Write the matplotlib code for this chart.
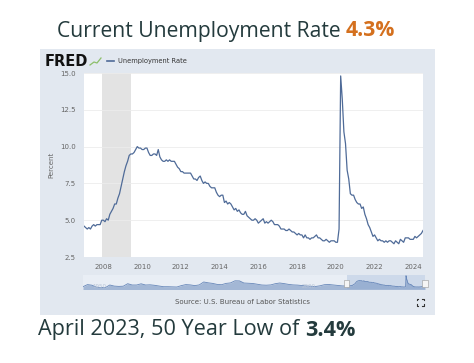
import matplotlib
matplotlib.use("Agg")
import matplotlib.pyplot as plt
from matplotlib.patches import Rectangle
import numpy as np

# ---------------- data ----------------
start_year = 2007
unrate = [
    4.6, 4.5, 4.4, 4.5, 4.4, 4.6, 4.7, 4.6, 4.7, 4.7, 4.7, 5.0,   # 2007
    5.0, 4.9, 5.1, 5.0, 5.4, 5.6, 5.8, 6.1, 6.1, 6.5, 6.8, 7.3,   # 2008
    7.8, 8.3, 8.7, 9.0, 9.4, 9.5, 9.5, 9.6, 9.8, 10.0, 9.9, 9.9,  # 2009
    9.8, 9.8, 9.9, 9.9, 9.6, 9.4, 9.4, 9.5, 9.5, 9.4, 9.8, 9.3,   # 2010
    9.1, 9.0, 9.0, 9.1, 9.0, 9.1, 9.0, 9.0, 9.0, 8.8, 8.6, 8.5,   # 2011
    8.3, 8.3, 8.2, 8.2, 8.2, 8.2, 8.2, 8.0, 7.8, 7.8, 7.7, 7.9,   # 2012
    8.0, 7.7, 7.5, 7.6, 7.5, 7.5, 7.3, 7.2, 7.2, 7.2, 6.9, 6.7,   # 2013
    6.6, 6.7, 6.7, 6.2, 6.3, 6.1, 6.2, 6.1, 5.9, 5.7, 5.8, 5.6,   # 2014
    5.7, 5.5, 5.4, 5.4, 5.6, 5.3, 5.2, 5.1, 5.0, 5.0, 5.1, 5.0,   # 2015
    4.8, 4.9, 5.0, 5.1, 4.8, 4.9, 4.8, 4.9, 5.0, 4.9, 4.7, 4.7,   # 2016
    4.7, 4.6, 4.4, 4.4, 4.4, 4.3, 4.3, 4.4, 4.3, 4.2, 4.2, 4.1,   # 2017
    4.0, 4.1, 4.0, 4.0, 3.8, 4.0, 3.8, 3.8, 3.7, 3.8, 3.8, 3.9,   # 2018
    4.0, 3.8, 3.8, 3.7, 3.6, 3.6, 3.7, 3.6, 3.5, 3.6, 3.6, 3.6,   # 2019
    3.5, 3.5, 4.4, 14.8, 13.2, 11.0, 10.2, 8.4, 7.8, 6.8, 6.7, 6.7,  # 2020
    6.4, 6.2, 6.1, 6.1, 5.8, 5.9, 5.4, 5.1, 4.7, 4.5, 4.2, 3.9,   # 2021
    4.0, 3.8, 3.6, 3.7, 3.6, 3.6, 3.5, 3.6, 3.5, 3.6, 3.6, 3.5,   # 2022
    3.4, 3.6, 3.5, 3.4, 3.7, 3.6, 3.5, 3.8, 3.8, 3.8, 3.7, 3.7,   # 2023
    3.7, 3.9, 3.8, 3.9, 4.0, 4.1, 4.3,                            # 2024
]
recession = (2007 + 11/12, 2009 + 5/12)

# navigator history (annual averages before the monthly window)
hist_years = list(range(1948, 2007))
hist_rate = [3.8, 5.9, 5.3, 3.3, 3.0, 2.9, 5.5, 4.4, 4.1, 4.3, 6.8, 5.5, 5.5, 6.7,
             5.5, 5.7, 5.2, 4.5, 3.8, 3.8, 3.6, 3.5, 4.9, 5.9, 5.6, 4.9, 5.6, 8.5,
             7.7, 7.1, 6.1, 5.8, 7.1, 7.6, 9.7, 9.6, 7.5, 7.2, 7.0, 6.2, 5.5, 5.3,
             5.6, 6.8, 7.5, 6.9, 6.1, 5.6, 5.4, 4.9, 4.5, 4.2, 4.0, 4.7, 5.8, 6.0,
             5.5, 5.1, 4.6]

x_ticks = [2008, 2010, 2012, 2014, 2016, 2018, 2020, 2022, 2024]
y_ticks = [2.5, 5.0, 7.5, 10.0, 12.5, 15.0]

title_main = "Current Unemployment Rate "
title_val = "4.3%"
foot_main = "April 2023, 50 Year Low of "
foot_val = "3.4%"

# ---------------- figure ----------------
W, H = 474, 363
fig = plt.figure(figsize=(W/100, H/100), dpi=100)
fig.patch.set_facecolor("white")

def fx(px):
    return px / W

def fy(py):
    return 1 - py / H

PANEL = "#e2e8f0"
LINE = "#4f6b98"
TXT = "#243b3d"

# panel background
fig.add_artist(Rectangle((fx(40), fy(315)), fx(435) - fx(40), fy(49) - fy(315),
                         transform=fig.transFigure, facecolor=PANEL, edgecolor="none", zorder=0))

# title
fam = ["Open Sans", "DejaVu Sans"]
t1 = fig.text(fx(57), fy(31), title_main, fontsize=15.2, color=TXT, family=fam,
              va="center", ha="left")
fig.canvas.draw()
bb = t1.get_window_extent()
fig.text(bb.x1 / W, fy(31), title_val, fontsize=15.2, color="#d4701e", family=fam,
         fontweight="bold", va="center", ha="left")

t2 = fig.text(fx(38), fy(330), foot_main, fontsize=15.6, color=TXT, family=fam,
              va="center", ha="left")
fig.canvas.draw()
bb2 = t2.get_window_extent()
fig.text(bb2.x1 / W, fy(330), foot_val, fontsize=15.6, color=TXT, family=fam,
         fontweight="bold", va="center", ha="left")

# header: FRED logo and legend
fig.text(fx(45), fy(61), "FRED", fontsize=10.5, fontweight="bold", color="#111111",
         family=["DejaVu Sans"], va="center", ha="left")
fig.add_artist(plt.Line2D([fx(90), fx(94), fx(97), fx(101)],
                          [fy(65), fy(62), fy(63), fy(58)],
                          transform=fig.transFigure, color="#8dbf6a", lw=0.9))
fig.add_artist(plt.Line2D([fx(107), fx(114)], [fy(61), fy(61)],
                          transform=fig.transFigure, color=LINE, lw=1.2))
fig.text(fx(118), fy(61), "Unemployment Rate", fontsize=4.8, color="#333333",
         va="center", ha="left")

# main axes
ax = fig.add_axes([fx(84), fy(257), fx(423) - fx(84), fy(73) - fy(257)])
ax.set_facecolor("white")
x = start_year + np.arange(len(unrate)) / 12
ax.axvspan(recession[0], recession[1], color="#e3e3e3", lw=0, zorder=1)
ax.plot(x, unrate, color=LINE, lw=0.9, zorder=3)
ax.set_xlim(start_year, x[-1])
ax.set_ylim(2.5, 15.0)
ax.set_yticks(y_ticks)
ax.set_yticklabels([f"{v:.1f}" for v in y_ticks])
ax.set_xticks(x_ticks)
ax.set_xticklabels([str(v) for v in x_ticks])
ax.grid(axis="y", color="#ececec", lw=0.6, zorder=0)
ax.tick_params(axis="both", length=0, labelsize=5, labelcolor="#666666")
ax.tick_params(axis="y", pad=6)
ax.tick_params(axis="x", pad=5)
for s in ax.spines.values():
    s.set_visible(False)
ax.set_ylabel("Percent", fontsize=5, color="#666666", labelpad=4)

# navigator
nav = fig.add_axes([fx(83), fy(289), fx(425) - fx(83), fy(275) - fy(289)])
nav.set_facecolor("#e9eef5")
nx = list(hist_years) + list(x)
ny = list(hist_rate) + list(unrate)
nav.fill_between(nx, 0, ny, color="#a3b7d5", lw=0)
nav.plot(nx, ny, color="#6787b9", lw=0.6)
nav.axvspan(start_year, x[-1], color="#7d9ccc", alpha=0.25, lw=0)
nav.set_xlim(1948, x[-1])
nav.set_ylim(1.5, 15.5)
nav.set_xticks([])
nav.set_yticks([])
for s in nav.spines.values():
    s.set_visible(False)
nav.text(1950, 4.5, "1950", fontsize=4, color="#b8c4d6", ha="left", va="center")
nav.text(2000, 4.5, "2000", fontsize=4, color="#b8c4d6", ha="right", va="center")
for hx in (start_year, x[-1]):
    nav.add_patch(Rectangle((hx - 0.6, 4.0), 1.2, 7.0, facecolor="#f5f5f5",
                            edgecolor="#999999", lw=0.4, zorder=5, clip_on=False))

# source
fig.text(fx(243), fy(302), "Source: U.S. Bureau of Labor Statistics", fontsize=5,
         color="#555555", ha="center", va="center")

# expand icon
cx, cy, d, a = 420, 302, 3.5, 1.8
for sx in (-1, 1):
    for sy in (-1, 1):
        px, py = cx + sx * d, cy + sy * d
        fig.add_artist(plt.Line2D([fx(px - sx * a), fx(px), fx(px)],
                                  [fy(py), fy(py), fy(py - sy * a)],
                                  transform=fig.transFigure, color="#333333", lw=0.8))

fig.savefig("out.png", dpi=100)
